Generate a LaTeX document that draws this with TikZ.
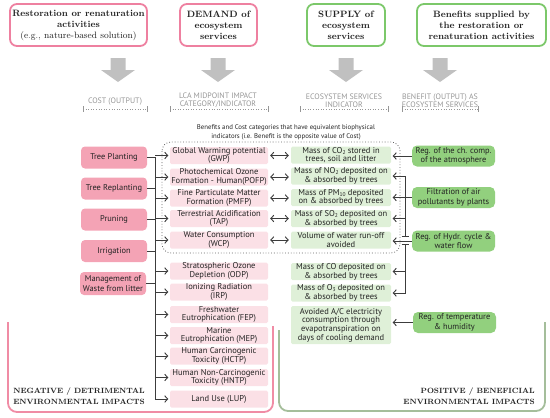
\documentclass[tikz,border=0pt]{standalone}
\usepackage{fontspec}
\setsansfont{PT Sans}
\usetikzlibrary{arrows.meta}
\definecolor{pinkb}{RGB}{238,128,160}
\definecolor{greenb}{RGB}{124,200,106}
\definecolor{costpink}{RGB}{244,163,181}
\definecolor{midpink}{RGB}{251,224,230}
\definecolor{indgreen}{RGB}{223,240,216}
\definecolor{bengreen}{RGB}{146,208,126}
\definecolor{graylab}{RGB}{150,150,150}
\definecolor{garrowc}{RGB}{192,192,192}
\definecolor{linec}{RGB}{60,60,60}
\definecolor{txt}{RGB}{35,35,35}
\definecolor{pinkbr}{RGB}{240,140,165}
\definecolor{greenbr}{RGB}{165,190,155}
\newcommand\subs[1]{\raisebox{-0.25ex}{\fontsize{5.5}{5.5}\selectfont #1}}
\newcommand\grayarr[1]{\fill[garrowc] ({#1-7.5},58) -- ({#1+7.5},58) -- ({#1+7.5},70) -- ({#1+17},70) -- (#1,82) -- ({#1-17},70) -- ({#1-7.5},70) -- cycle;}
\begin{document}
\begin{tikzpicture}[x=1pt,y=-1pt,
  topbox/.style={line width=1.8pt, rounded corners=7pt, fill=white, align=center, inner sep=0pt, minimum height=42, text=txt, font=\fontsize{9.2}{11}\selectfont},
  costbox/.style={fill=costpink, rounded corners=4pt, minimum width=66, minimum height=22, inner sep=0pt, align=center, text=txt, font=\sffamily\fontsize{8.4}{9.5}\selectfont},
  midbox/.style={fill=midpink, rounded corners=1.5pt, minimum width=98, minimum height=17, inner sep=0pt, align=center, text=txt, font=\sffamily\fontsize{8.5}{8.7}\selectfont},
  indbox/.style={fill=indgreen, rounded corners=1.5pt, minimum width=100, minimum height=17, inner sep=0pt, align=center, text=txt, font=\sffamily\fontsize{8.5}{8.7}\selectfont},
  benbox/.style={fill=bengreen, rounded corners=5pt, minimum width=83, minimum height=21, inner sep=0pt, align=center, text=txt, font=\sffamily\fontsize{8.4}{9.5}\selectfont},
  hdr/.style={text=graylab, align=center, inner sep=0pt, font=\sffamily\fontsize{7.9}{8}\selectfont},
  dimln/.style={draw=graylab, line width=0.6pt, dotted},
  dimtick/.style={draw=graylab, line width=0.6pt},
  ln/.style={draw=linec, line width=0.9pt},
  arr/.style={draw=linec, line width=0.9pt, -{Straight Barb[length=3pt,width=6.5pt]}, shorten >=1.5pt},
  darr/.style={draw=linec, line width=0.9pt, {Straight Barb[length=3pt,width=6.5pt]}-{Straight Barb[length=3pt,width=6.5pt]}, shorten >=2pt, shorten <=2pt},
  bottxt/.style={inner sep=0pt, text=txt, font=\bfseries\fontsize{7.6}{10.5}\selectfont}
]
\useasboundingbox (0,0) rectangle (550,418);

% top boxes
\node[topbox, draw=pinkb, minimum width=137] (t1) at (78.5,25) {{\bfseries Restoration or renaturation}\\{\bfseries activities}\\(e.g., nature-based solution)};
\node[topbox, draw=pinkb, minimum width=77] (t2) at (218.5,25) {\bfseries DEMAND of\\\bfseries ecosystem\\\bfseries services};
\node[topbox, draw=greenb, minimum width=78] (t3) at (346,25) {\bfseries SUPPLY of\\\bfseries ecosystem\\\bfseries services};
\node[topbox, draw=greenb, minimum width=129] (t4) at (481.5,25) {\bfseries Benefits supplied by\\\bfseries the restoration or\\\bfseries renaturation activities};

% gray arrows
\grayarr{118}
\grayarr{218}
\grayarr{346}
\grayarr{440}

% header labels
\node[hdr] (h1) at (115,101.5) {COST (OUTPUT)};
\node[hdr] (h2) at (218,100.5) {LCA MIDPOINT IMPACT\\CATEGORY/INDICATOR};
\node[hdr] (h3) at (344,100.5) {ECOSYSTEM SERVICES\\INDICATOR};
\node[hdr] (h4) at (440,100.5) {BENEFIT (OUTPUT) AS\\ECOSYSTEM SERVICES};
\foreach \a/\b in {83/147,170/268,300/388,402/478}{
  \draw[dimln] (\a,109) -- (\b,109);
  \draw[dimtick] (\a,106) -- (\a,112);
  \draw[dimtick] (\b,106) -- (\b,112);
}

% note
\node[align=center, inner sep=0pt, text=txt, font=\sffamily\fontsize{6.8}{9}\selectfont] (note) at (286,132.5) {Benefits and Cost categories that have equivalent biophysical\\indicators (i.e. Benefit is the opposite value of Cost)};

% dotted frame
\draw[draw=linec!80, line width=0.8pt, dotted, rounded corners=9pt] (162,142) rectangle (400,253);

% cost boxes
\node[costbox] (tp) at (114,157.5) {Tree Planting};
\node[costbox] (trp) at (114,188.5) {Tree Replanting};
\node[costbox] (pr) at (114,219.5) {Pruning};
\node[costbox] (irr) at (114,251) {Irrigation};
\node[costbox, minimum height=23] (mw) at (113,283.5) {Management of\\Waste from litter};

% midpoint boxes
\node[midbox] (gwp) at (219,155.5) {Global Warming potential\\(GWP)};
\node[midbox] (pofp) at (219,177) {Photochemical Ozone\\Formation - Human(POFP)};
\node[midbox] (pmfp) at (219,198) {Fine Particulate Matter\\Formation (PMFP)};
\node[midbox] (tap) at (219,218.5) {Terrestrial Acidification\\(TAP)};
\node[midbox] (wcp) at (219,240) {Water Consumption\\(WCP)};
\node[midbox] (odp) at (219,271) {Stratospheric Ozone\\Depletion (ODP)};
\node[midbox] (irp) at (219,292) {Ionizing Radiation\\(IRP)};
\node[midbox] (fep) at (219,314.5) {Freshwater\\Eutrophication (FEP)};
\node[midbox] (mep) at (219,335.5) {Marine\\Eutrophication (MEP)};
\node[midbox] (hctp) at (219,356) {Human Carcinogenic\\Toxicity (HCTP)};
\node[midbox] (hntp) at (219,377.5) {Human Non-Carcinogenic\\Toxicity (HNTP)};
\node[midbox] (lup) at (219,399) {Land Use (LUP)};

% indicator boxes
\node[indbox] (co2) at (341,155) {Mass of CO\subs{2} stored in\\trees, soil and litter};
\node[indbox] (no2) at (341,176) {Mass of NO\subs{2} deposited on\\\& absorbed by trees};
\node[indbox] (pm10) at (341,197.5) {Mass of PM\subs{10} deposited\\on \& absorbed by trees};
\node[indbox] (so2) at (341,218.5) {Mass of SO\subs{2} deposited on\\\& absorbed by trees};
\node[indbox] (wat) at (341,240) {Volume of water run-off\\avoided};
\node[indbox] (co) at (341,271.5) {Mass of CO deposited on\\\& absorbed by trees};
\node[indbox] (o3) at (341,293) {Mass of O\subs{3} deposited on\\\& absorbed by trees};
\node[indbox, minimum height=38] (ac) at (341,325) {Avoided A/C electricity\\consumption through\\evapotranspiration on\\days of cooling demand};

% benefit boxes
\node[benbox] (b1) at (453.5,156) {Reg. of the ch. comp.\\of the atmosphere};
\node[benbox] (b2) at (453.5,197.5) {Filtration of air\\pollutants by plants};
\node[benbox] (b3) at (453.5,241) {Reg. of Hydr. cycle \&\\water flow};
\node[benbox] (b4) at (454.5,322.5) {Reg. of temperature\\\& humidity};

% left bus
\coordinate (bx) at (155,0);
\draw[arr] (tp.east) -- (tp.east -| bx) |- (lup.west);
\foreach \n in {gwp,pofp,pmfp,tap,wcp,odp,irp,fep,mep,hctp,hntp}{
  \draw[arr] (\n.west -| bx) -- (\n.west);
}
\foreach \n in {trp,pr,irr,mw}{
  \draw[ln] (\n.east) -- (\n.east -| bx);
}

% double arrows
\draw[darr] (gwp.east) -- (gwp.east -| co2.west);
\draw[darr] (pofp.east) -- (pofp.east -| no2.west);
\draw[darr] (pmfp.east) -- (pmfp.east -| pm10.west);
\draw[darr] (tap.east) -- (tap.east -| so2.west);
\draw[darr] (wcp.east) -- (wcp.east -| wat.west);

% right connectors
\coordinate (fx) at (405,0);
\coordinate (cap1) at (405,236.5);
\coordinate (cap2) at (405,244);
\draw[arr] (cap1) -- (no2.east -| fx) -- (no2.east);
\draw[arr] (cap2) |- (o3.east);
\draw[arr] (pm10.east -| fx) -- (pm10.east);
\draw[arr] (so2.east -| fx) -- (so2.east);
\draw[arr] (co.east -| fx) -- (co.east);
\draw[ln] (b2.west) -- (b2.west -| fx);
\draw[ln] ([xshift=-3.5pt]cap1) -- ([xshift=3.5pt]cap1);
\draw[ln] ([xshift=-3.5pt]cap2) -- ([xshift=3.5pt]cap2);
\draw[arr] (b3.west) -- (b3.west -| wat.east);
\draw[arr] (b1.west) -- (b1.west -| co2.east);
\draw[arr] (b4.west) -- (b4.west -| ac.east);

% bottom brackets
\draw[greenbr, line width=1.8pt, rounded corners=9pt] (279,330) -- (279,411) -- (545,411) -- (545,322);
\draw[pinkbr, line width=1.8pt, rounded corners=9pt] (8,322) -- (8,412) -- (273,412) -- (273,326);

\node[bottxt, align=center] (neg) at (79,396) {NEGATIVE / DETRIMENTAL\\ENVIRONMENTAL IMPACTS};
\node[bottxt, align=right, anchor=east] (pos) at (535,396) {POSITIVE / BENEFICIAL\\ENVIRONMENTAL IMPACTS};
\end{tikzpicture}
\end{document}
